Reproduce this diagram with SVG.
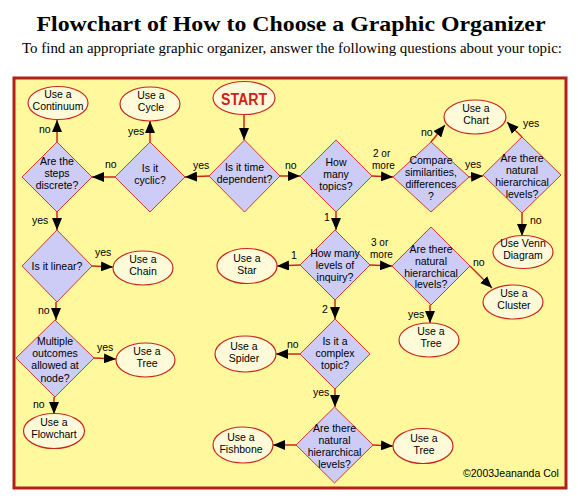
<svg xmlns="http://www.w3.org/2000/svg" width="578" height="502" viewBox="0 0 578 502">
<defs>
<style>
.title{font-family:"Liberation Serif","Times New Roman",serif;font-weight:bold;font-size:22px;fill:#000}
.sub{font-family:"Liberation Serif","Times New Roman",serif;font-size:14.5px;fill:#000}
.d{fill:#ccccf6;stroke:#d23a2a;stroke-width:1}
.e{fill:#fffbd8;stroke:#c8281c;stroke-width:1.2}
.t{font-family:"Liberation Sans",Arial,sans-serif;font-size:10.5px;fill:#000;text-anchor:middle}
.l{font-family:"Liberation Sans",Arial,sans-serif;font-size:10.5px;fill:#000}
.s{font-family:"Liberation Sans",Arial,sans-serif;font-size:10px;fill:#000}
.c{stroke:#c8281c;stroke-width:1.5;fill:none;marker-end:url(#ah)}
</style>
<marker id="ah" markerUnits="userSpaceOnUse" markerWidth="12" markerHeight="10" refX="12" refY="5" orient="auto">
<path d="M0,0 L12,5 L0,10 z" fill="#000"/>
</marker>
</defs>
<rect width="578" height="502" fill="#fff"/>
<text class="title" x="291" y="31" text-anchor="middle" textLength="509" lengthAdjust="spacingAndGlyphs">Flowchart of How to Choose a Graphic Organizer</text>
<text class="sub" x="292" y="53" text-anchor="middle" textLength="540" lengthAdjust="spacingAndGlyphs">To find an appropriate graphic organizer, answer the following questions about your topic:</text>
<rect x="14" y="78" width="552" height="410" fill="#fff89c" stroke="#b3201a" stroke-width="3"/>

<g id="connectors">
<line class="c" x1="244" y1="115" x2="244" y2="140"/>
<line class="c" x1="209" y1="176" x2="185" y2="177"/>
<line class="c" x1="115" y1="177" x2="92" y2="177"/>
<line class="c" x1="57" y1="142" x2="57" y2="120"/>
<line class="c" x1="150" y1="142" x2="150" y2="121"/>
<line class="c" x1="57" y1="212" x2="57" y2="230"/>
<line class="c" x1="92" y1="266" x2="113" y2="267"/>
<line class="c" x1="56" y1="302" x2="56" y2="320"/>
<line class="c" x1="94" y1="358" x2="116" y2="359"/>
<line class="c" x1="54" y1="397" x2="54" y2="414"/>
<line class="c" x1="280" y1="176" x2="300" y2="176"/>
<line class="c" x1="372" y1="176" x2="393" y2="177"/>
<line class="c" x1="469" y1="177" x2="483" y2="176"/>
<line class="c" x1="431" y1="142" x2="445" y2="125"/>
<line class="c" x1="522" y1="137" x2="507" y2="122"/>
<line class="c" x1="522" y1="213" x2="522" y2="236"/>
<line class="c" x1="336" y1="212" x2="336" y2="230"/>
<line class="c" x1="300" y1="265" x2="277" y2="266"/>
<line class="c" x1="370" y1="265" x2="392" y2="266"/>
<line class="c" x1="470" y1="266" x2="492" y2="288"/>
<line class="c" x1="430" y1="305" x2="430" y2="323"/>
<line class="c" x1="335" y1="300" x2="335" y2="319"/>
<line class="c" x1="300" y1="354" x2="276" y2="354"/>
<line class="c" x1="335" y1="389" x2="335" y2="407"/>
<line class="c" x1="296" y1="445" x2="273" y2="445"/>
<line class="c" x1="373" y1="445" x2="393" y2="446"/>
<text class="l" x="39" y="133">no</text>
<text class="l" x="128" y="135">yes</text>
<text class="l" x="105" y="168">no</text>
<text class="l" x="193" y="169">yes</text>
<text class="l" x="285" y="169">no</text>
<text class="s" x="373" y="157">2 or</text>
<text class="s" x="372" y="169">more</text>
<text class="l" x="324" y="221">1</text>
<text class="l" x="32" y="224">yes</text>
<text class="l" x="95" y="256">yes</text>
<text class="l" x="38" y="314">no</text>
<text class="l" x="97" y="351">yes</text>
<text class="l" x="33" y="408">no</text>
<text class="l" x="421" y="136">no</text>
<text class="l" x="523" y="127">yes</text>
<text class="l" x="465" y="168">yes</text>
<text class="l" x="530" y="224">no</text>
<text class="l" x="291" y="259">1</text>
<text class="s" x="371" y="246">3 or</text>
<text class="s" x="370" y="258">more</text>
<text class="l" x="322" y="313">2</text>
<text class="l" x="287" y="348">no</text>
<text class="l" x="313" y="396">yes</text>
<text class="l" x="473" y="266">no</text>
<text class="l" x="408" y="318">yes</text>
</g>

<g id="start">
<ellipse class="e" cx="244" cy="98" rx="31" ry="16.5"/>
<text x="244" y="105" text-anchor="middle" font-family="Liberation Sans,Arial,sans-serif" font-weight="bold" font-size="16" fill="#d0201a" textLength="46" lengthAdjust="spacingAndGlyphs">START</text>
</g>
<g id="time-dependent">
<polygon class="d" points="244.5,140 280,176 244.5,212 209,176"/>
<text class="t" x="244.5" y="171">Is it time</text>
<text class="t" x="244.5" y="183">dependent?</text>
</g>
<g id="cyclic">
<polygon class="d" points="150,142 185,177 150,212 115,177"/>
<text class="t" x="150" y="172">Is it</text>
<text class="t" x="150" y="184">cyclic?</text>
</g>
<g id="discrete">
<polygon class="d" points="57,142 92,177 57,212 22,177"/>
<text class="t" x="57" y="165">Are the</text>
<text class="t" x="57" y="177">steps</text>
<text class="t" x="57" y="189">discrete?</text>
</g>
<g id="continuum">
<ellipse class="e" cx="58" cy="103" rx="30" ry="16.5"/>
<text class="t" x="58" y="98">Use a</text>
<text class="t" x="58" y="110">Continuum</text>
</g>
<g id="cycle">
<ellipse class="e" cx="150" cy="104" rx="30" ry="17"/>
<text class="t" x="151" y="99">Use a</text>
<text class="t" x="151" y="111">Cycle</text>
</g>
<g id="linear">
<polygon class="d" points="57,230 92,266 57,302 22,266"/>
<text class="t" x="57" y="270">Is it linear?</text>
</g>
<g id="chain">
<ellipse class="e" cx="143" cy="268" rx="30" ry="17"/>
<text class="t" x="143" y="263">Use a</text>
<text class="t" x="143" y="275">Chain</text>
</g>
<g id="multiple">
<polygon class="d" points="55,320 94,358 55,397 16,358"/>
<text class="t" x="55" y="345">Multiple</text>
<text class="t" x="55" y="357">outcomes</text>
<text class="t" x="55" y="369">allowed at</text>
<text class="t" x="55" y="382">node?</text>
</g>
<g id="tree-left">
<ellipse class="e" cx="145.5" cy="360" rx="29.5" ry="17"/>
<text class="t" x="147" y="355">Use a</text>
<text class="t" x="147" y="367">Tree</text>
</g>
<g id="flowchart">
<ellipse class="e" cx="54" cy="431" rx="30.5" ry="17.5"/>
<text class="t" x="54" y="426">Use  a</text>
<text class="t" x="54" y="438">Flowchart</text>
</g>
<g id="topics">
<polygon class="d" points="336,140 372,176 336,212 300,176"/>
<text class="t" x="336" y="166">How</text>
<text class="t" x="336" y="178">many</text>
<text class="t" x="336" y="190">topics?</text>
</g>
<g id="compare">
<polygon class="d" points="431,142 469,177 431,212 393,177"/>
<text class="t" x="431" y="164">Compare</text>
<text class="t" x="431" y="176">similarities,</text>
<text class="t" x="431" y="188">differences</text>
<text class="t" x="431" y="200">?</text>
</g>
<g id="natural-top">
<polygon class="d" points="522,137 561,175 522,213 483,175"/>
<text class="t" x="522" y="162">Are there</text>
<text class="t" x="522" y="174">natural</text>
<text class="t" x="522" y="186">hierarchical</text>
<text class="t" x="522" y="198">levels?</text>
</g>
<g id="chart">
<ellipse class="e" cx="475" cy="117" rx="31" ry="17"/>
<text class="t" x="476" y="112">Use a</text>
<text class="t" x="476" y="124">Chart</text>
</g>
<g id="venn">
<ellipse class="e" cx="523" cy="252" rx="30" ry="16.5"/>
<text class="t" x="523" y="247">Use Venn</text>
<text class="t" x="523" y="259">Diagram</text>
</g>
<g id="levels">
<polygon class="d" points="335,230 370,265 335,300 300,265"/>
<text class="t" x="335" y="257">How many</text>
<text class="t" x="335" y="269">levels of</text>
<text class="t" x="335" y="281">inquiry?</text>
</g>
<g id="star">
<ellipse class="e" cx="247" cy="266" rx="30" ry="17.5"/>
<text class="t" x="247" y="262">Use a</text>
<text class="t" x="247" y="274">Star</text>
</g>
<g id="natural-mid">
<polygon class="d" points="431,227 470,266 431,305 392,266"/>
<text class="t" x="431" y="253">Are there</text>
<text class="t" x="431" y="265">natural</text>
<text class="t" x="431" y="277">hierarchical</text>
<text class="t" x="431" y="288">levels?</text>
</g>
<g id="cluster">
<ellipse class="e" cx="513" cy="302" rx="30" ry="17"/>
<text class="t" x="514" y="297">Use a</text>
<text class="t" x="514" y="309">Cluster</text>
</g>
<g id="tree-mid">
<ellipse class="e" cx="429" cy="340" rx="30" ry="17"/>
<text class="t" x="431" y="335">Use a</text>
<text class="t" x="431" y="347">Tree</text>
</g>
<g id="complex">
<polygon class="d" points="335,319 370,354 335,389 300,354"/>
<text class="t" x="335" y="345">Is it a</text>
<text class="t" x="335" y="357">complex</text>
<text class="t" x="335" y="369">topic?</text>
</g>
<g id="spider">
<ellipse class="e" cx="245.5" cy="354" rx="30.5" ry="18"/>
<text class="t" x="244" y="350">Use a</text>
<text class="t" x="244" y="362">Spider</text>
</g>
<g id="natural-bottom">
<polygon class="d" points="334.5,407 373,445 334.5,483 296,445"/>
<text class="t" x="334.5" y="432">Are there</text>
<text class="t" x="334.5" y="444">natural</text>
<text class="t" x="334.5" y="456">hierarchical</text>
<text class="t" x="334.5" y="468">levels?</text>
</g>
<g id="fishbone">
<ellipse class="e" cx="243" cy="445" rx="30" ry="18"/>
<text class="t" x="241" y="441">Use a</text>
<text class="t" x="241" y="453">Fishbone</text>
</g>
<g id="tree-bottom">
<ellipse class="e" cx="423" cy="446" rx="30" ry="17.5"/>
<text class="t" x="424" y="442">Use a</text>
<text class="t" x="424" y="454">Tree</text>
</g>
<text class="l" x="463" y="477">©2003Jeananda Col</text>
</svg>
